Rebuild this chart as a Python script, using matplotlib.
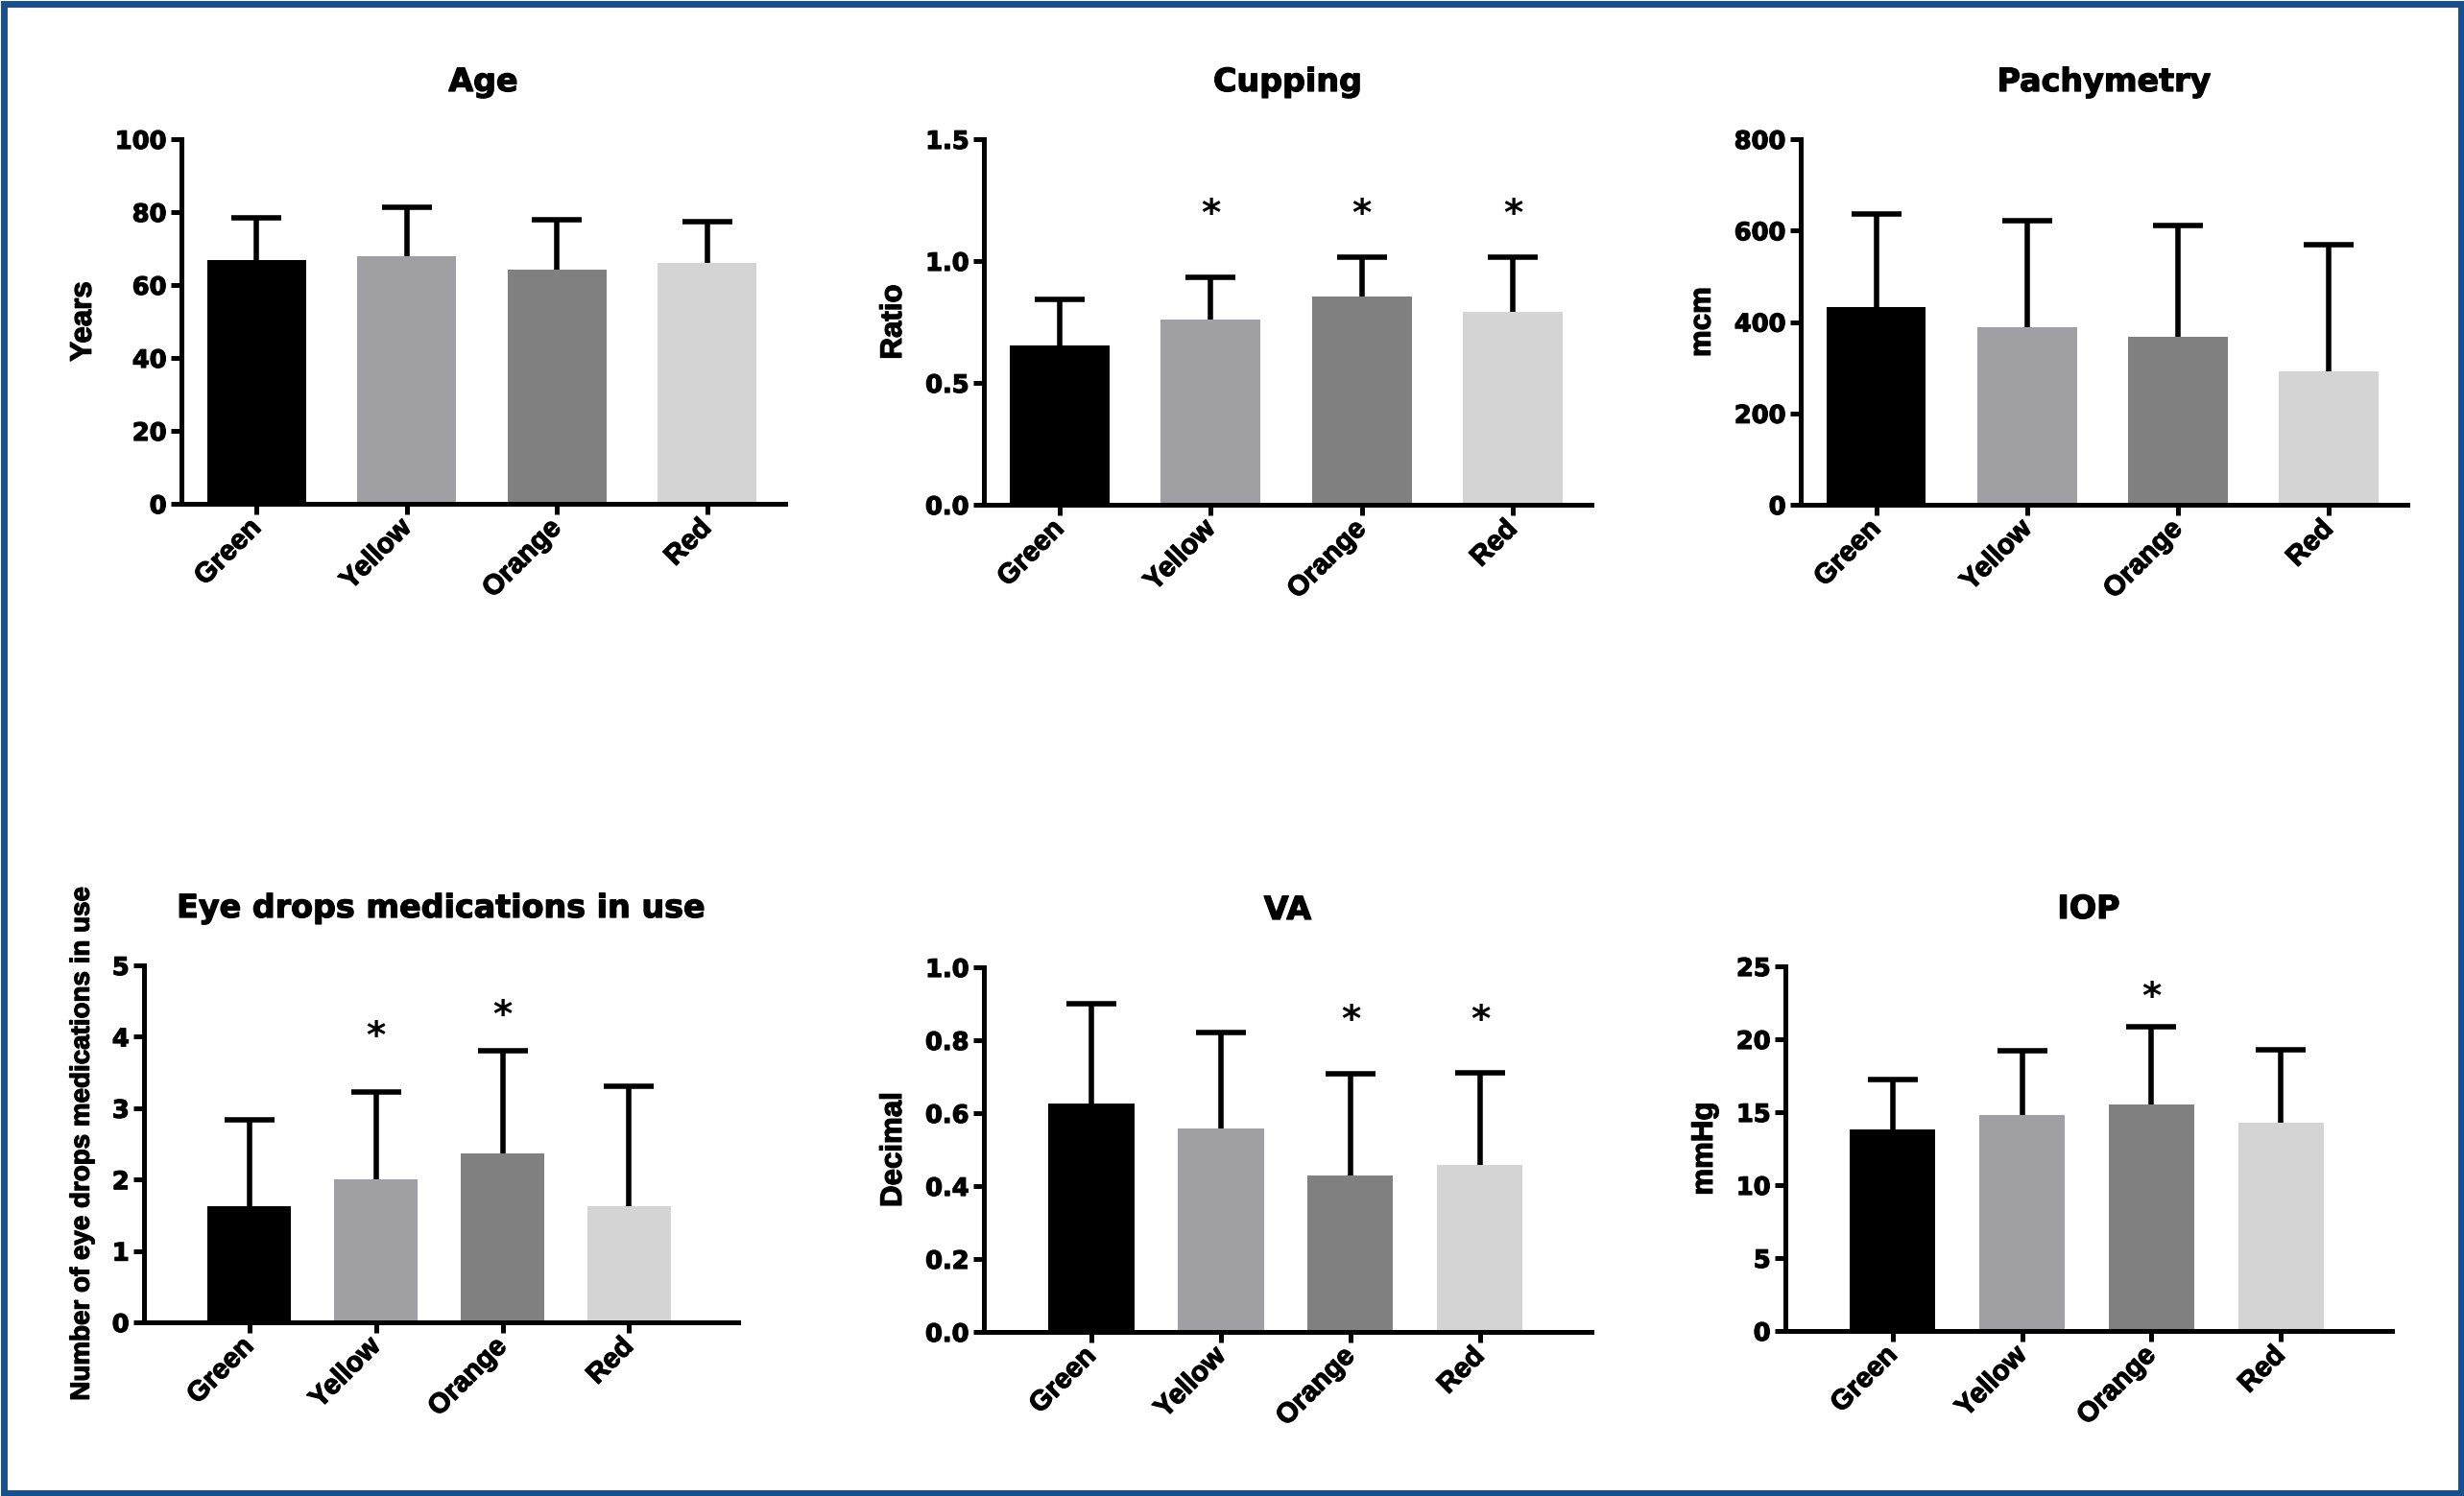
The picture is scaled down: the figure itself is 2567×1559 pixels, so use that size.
import matplotlib
matplotlib.use("Agg")
import matplotlib.pyplot as plt
import matplotlib.patheffects as pe
from matplotlib.patches import Rectangle

plt.rcParams["font.family"] = ["Liberation Sans", "DejaVu Sans"]
plt.rcParams["font.weight"] = "bold"
WIDE = ["DejaVu Sans"]   # wider face for titles and y tick numbers
HEAVY = [pe.withStroke(linewidth=0.9, foreground="black")]

# -----------------------------
# Data (mean and upper SD per triage group)
# -----------------------------
groups = ["Green", "Yellow", "Orange", "Red"]
bar_colors = ["#000000", "#a0a0a4", "#808080", "#d4d4d4"]

age_mean = [66.9, 67.8, 64.3, 66.0]
age_sd = [11.4, 13.4, 13.5, 11.3]

cup_mean = [0.654, 0.760, 0.853, 0.791]
cup_sd = [0.188, 0.174, 0.162, 0.224]
cup_star = [None, 1.23, 1.23, 1.23]

pachy_mean = [432, 389, 367, 291]
pachy_sd = [204, 233, 243, 279]

drops_mean = [1.62, 2.00, 2.37, 1.62]
drops_sd = [1.21, 1.22, 1.44, 1.69]
drops_star = [None, 4.13, 4.42, None]

va_mean = [0.626, 0.558, 0.429, 0.459]
va_sd = [0.274, 0.263, 0.279, 0.252]
va_star = [None, None, 0.88, 0.88]

iop_mean = [13.8, 14.8, 15.5, 14.25]
iop_sd = [3.45, 4.44, 5.36, 5.05]
iop_star = [None, None, 23.5, None]

W, H = 2567, 1559
fig = plt.figure(figsize=(W / 100, H / 100), dpi=100)


def panel(rect, title, ylabel, mean, sd, ylim, yticks, yfmt, xlim,
          stars=None, ylabel_size=22.5):
    ax = fig.add_axes(rect)
    x = list(range(len(groups)))
    ax.bar(x, mean, width=0.66, color=bar_colors, zorder=2)
    eb = ax.errorbar(x, mean, yerr=[[0] * len(sd), sd], fmt="none",
                     ecolor="black", elinewidth=4.0, capsize=19,
                     capthick=4.0, zorder=3)
    eb[1][0].set_visible(False)   # only the upper cap
    if stars:
        star_fs = 28
        for i, s in enumerate(stars):
            if s is not None:
                # put the centre of the asterisk glyph on the value
                ax.annotate("*", (i, s), xytext=(0, -0.54 * star_fs),
                            textcoords="offset points", ha="center",
                            va="baseline", fontsize=star_fs,
                            fontweight="bold", family=WIDE)
    ax.set_xlim(*xlim)
    ax.set_ylim(*ylim)
    ax.set_yticks(yticks)
    ax.set_yticklabels([yfmt.format(v) for v in yticks], family=WIDE)
    ax.set_xticks(x)
    ax.set_xticklabels(groups, rotation=45, ha="right", va="center",
                       rotation_mode="anchor", fontsize=21)
    for lab in ax.get_xticklabels() + ax.get_yticklabels():
        lab.set_path_effects(HEAVY)
    for side in ["top", "right"]:
        ax.spines[side].set_visible(False)
    for side in ["left", "bottom"]:
        ax.spines[side].set_linewidth(3.6)
    ax.tick_params(axis="both", width=3.6, length=8, pad=3)
    ax.tick_params(axis="y", labelsize=18.5)
    ax.tick_params(axis="x", pad=7)
    t = ax.set_title(title, fontsize=24, fontweight="bold", pad=36, family=WIDE)
    t.set_path_effects(HEAVY)
    yl = ax.set_ylabel(ylabel, fontsize=ylabel_size, fontweight="bold",
                       labelpad=13)
    yl.set_path_effects(HEAVY)
    return ax


top_xlim = (-0.5, 3.52)
bot_xlim = (-0.83, 3.86)

panel([189 / W, 1 - 525 / H, 629 / W, 380 / H], "Age", "Years",
      age_mean, age_sd, (0, 100), [0, 20, 40, 60, 80, 100], "{:.0f}", top_xlim)
panel([1025 / W, 1 - 526 / H, 633 / W, 381 / H], "Cupping", "Ratio",
      cup_mean, cup_sd, (0, 1.5), [0, 0.5, 1.0, 1.5], "{:.1f}", top_xlim,
      stars=cup_star)
panel([1876 / W, 1 - 526 / H, 632 / W, 381 / H], "Pachymetry", "mcm",
      pachy_mean, pachy_sd, (0, 800), [0, 200, 400, 600, 800], "{:.0f}",
      top_xlim)
panel([150 / W, 1 - 1378 / H, 619 / W, 372 / H],
      "Eye drops medications in use", "Number of eye drops medications in use",
      drops_mean, drops_sd, (0, 5), [0, 1, 2, 3, 4, 5], "{:.0f}", bot_xlim,
      stars=drops_star, ylabel_size=20)
panel([1025 / W, 1 - 1388 / H, 633 / W, 380 / H], "VA", "Decimal",
      va_mean, va_sd, (0, 1.0), [0, 0.2, 0.4, 0.6, 0.8, 1.0], "{:.1f}",
      bot_xlim, stars=va_star)
panel([1860 / W, 1 - 1387 / H, 632 / W, 380 / H], "IOP", "mmHg",
      iop_mean, iop_sd, (0, 25), [0, 5, 10, 15, 20, 25], "{:.0f}", bot_xlim,
      stars=iop_star)

# blue frame around the whole figure
fig.patches.append(Rectangle((3.5 / W, 3.5 / H), 1 - 7 / W, 1 - 7 / H,
                             transform=fig.transFigure, fill=False,
                             edgecolor="#1a4f8f", linewidth=5))

fig.savefig("out.png", dpi=100)
